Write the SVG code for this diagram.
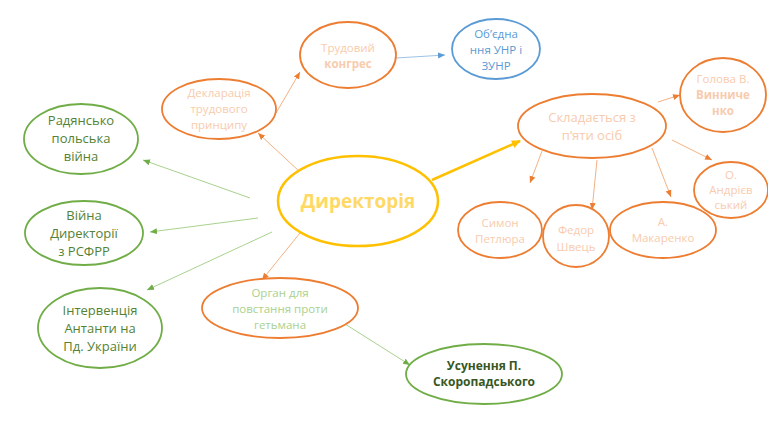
<svg xmlns="http://www.w3.org/2000/svg" width="768" height="433" viewBox="0 0 768 433">
<style>
text{font-family:"Open Sans","Liberation Sans",sans-serif;text-anchor:middle;font-size:11.5px}
.o{fill:#fff;stroke:#ED7D31;stroke-width:1.8}
.g{fill:#fff;stroke:#70AD47;stroke-width:1.8}
.b{fill:#fff;stroke:#5B9BD5;stroke-width:1.8}
.to{fill:#F8CBAD}.tg{fill:#548235;font-size:13px}.tb{fill:#5B9BD5}
.lo{stroke:#F4B183;stroke-width:1;marker-end:url(#ao)}
.lg{stroke:#A9D18E;stroke-width:1;marker-end:url(#ag)}
</style>
<defs>
<marker id="ao" markerWidth="8" markerHeight="8" refX="7" refY="4" orient="auto" markerUnits="userSpaceOnUse"><path d="M0,1L7,4L0,7Z" fill="#ED7D31"/></marker>
<marker id="ag" markerWidth="8" markerHeight="8" refX="7" refY="4" orient="auto" markerUnits="userSpaceOnUse"><path d="M0,1L7,4L0,7Z" fill="#70AD47"/></marker>
<marker id="ab" markerWidth="8" markerHeight="8" refX="7" refY="4" orient="auto" markerUnits="userSpaceOnUse"><path d="M0,1L7,4L0,7Z" fill="#5B9BD5"/></marker>
<marker id="ay" markerWidth="10" markerHeight="10" refX="8" refY="5" orient="auto" markerUnits="userSpaceOnUse"><path d="M0,1L9,5L0,9Z" fill="#FFC000"/></marker>
</defs>
<g id="connectors" fill="none">
<line x1="432" y1="180" x2="520" y2="141" stroke="#FFC000" stroke-width="2.5" marker-end="url(#ay)"/>
<line class="lo" x1="300" y1="172" x2="258" y2="133"/>
<line class="lo" x1="276" y1="113" x2="300" y2="72"/>
<line x1="396" y1="58" x2="445" y2="55" stroke="#9DC3E6" stroke-width="1" marker-end="url(#ab)"/>
<line class="lo" x1="658" y1="102" x2="680" y2="95"/>
<line class="lo" x1="672" y1="140" x2="712" y2="160"/>
<line class="lo" x1="542" y1="151" x2="530" y2="183"/>
<line class="lo" x1="597" y1="160" x2="592" y2="210"/>
<line class="lo" x1="652" y1="148" x2="671" y2="197"/>
<line class="lg" x1="250" y1="198" x2="143" y2="160"/>
<line class="lg" x1="258" y1="218" x2="150" y2="232"/>
<line class="lg" x1="272" y1="232" x2="147" y2="290"/>
<line class="lo" x1="300" y1="233" x2="262" y2="280"/>
<line class="lg" x1="345" y1="324" x2="410" y2="365"/>
</g>
<g id="dyr"><ellipse cx="358" cy="201" rx="80" ry="45" fill="#fff" stroke="#FFC000" stroke-width="2.5"/><text x="358" y="208" style="font-size:19px;font-weight:bold;fill:#FFD966">Директорія</text></g>
<g id="skl"><ellipse class="o" cx="592" cy="126" rx="74" ry="32" stroke-width="2.5"/><text class="to" x="592" y="122" style="font-size:13px">Складається з</text><text class="to" x="592" y="140" style="font-size:13px">п’яти осіб</text></g>
<g id="trud"><ellipse class="o" cx="348" cy="55" rx="48" ry="33"/><text class="to" x="348" y="52">Трудовий</text><text class="to" x="348" y="68" font-weight="bold">конгрес</text></g>
<g id="obj"><ellipse class="b" cx="496" cy="49" rx="44" ry="30"/><text class="tb" x="496" y="38">Об’єдна</text><text class="tb" x="496" y="54">ння УНР і</text><text class="tb" x="496" y="70">ЗУНР</text></g>
<g id="dekl"><ellipse class="o" cx="219" cy="109" rx="57" ry="30"/><text class="to" x="219" y="97">Декларація</text><text class="to" x="219" y="113">трудового</text><text class="to" x="219" y="129">принципу</text></g>
<g id="holova"><ellipse class="o" cx="723" cy="95" rx="43" ry="37"/><text class="to" x="723" y="83">Голова В.</text><text class="to" x="723" y="99" font-weight="bold">Винниче</text><text class="to" x="723" y="115" font-weight="bold">нко</text></g>
<g id="andr"><ellipse class="o" cx="731" cy="190" rx="37" ry="28"/><text class="to" x="731" y="179">О.</text><text class="to" x="731" y="194">Андрієв</text><text class="to" x="731" y="209">ський</text></g>
<g id="petl"><ellipse class="o" cx="500" cy="230" rx="42" ry="28"/><text class="to" x="500" y="227">Симон</text><text class="to" x="500" y="243">Петлюра</text></g>
<g id="shv"><ellipse class="o" cx="576" cy="236" rx="33" ry="31"/><text class="to" x="576" y="234">Федор</text><text class="to" x="576" y="251">Швець</text></g>
<g id="mak"><ellipse class="o" cx="663" cy="230" rx="53" ry="28"/><text class="to" x="663" y="226">А.</text><text class="to" x="663" y="242">Макаренко</text></g>
<g id="rp"><ellipse class="g" cx="81" cy="139" rx="57" ry="35"/><text class="tg" x="81" y="125">Радянсько</text><text class="tg" x="81" y="143">польська</text><text class="tg" x="81" y="161">війна</text></g>
<g id="vd"><ellipse class="g" cx="84" cy="233" rx="59" ry="32"/><text class="tg" x="84" y="220">Війна</text><text class="tg" x="84" y="238">Директорії</text><text class="tg" x="84" y="256">з РСФРР</text></g>
<g id="int"><ellipse class="g" cx="100" cy="328" rx="62" ry="40"/><text class="tg" x="100" y="315">Інтервенція</text><text class="tg" x="100" y="333">Антанти на</text><text class="tg" x="100" y="351">Пд. України</text></g>
<g id="org"><ellipse class="o" cx="280" cy="308" rx="78" ry="30"/><text x="280" y="297" fill="#A9D18E">Орган для</text><text x="280" y="313" fill="#A9D18E">повстання проти</text><text x="280" y="329" fill="#A9D18E">гетьмана</text></g>
<g id="us"><ellipse class="g" cx="484" cy="374" rx="78" ry="30"/><text x="484" y="370" style="fill:#385723;font-weight:bold;font-size:12px">Усунення П.</text><text x="484" y="386" style="fill:#385723;font-weight:bold;font-size:12px">Скоропадського</text></g>
</svg>
